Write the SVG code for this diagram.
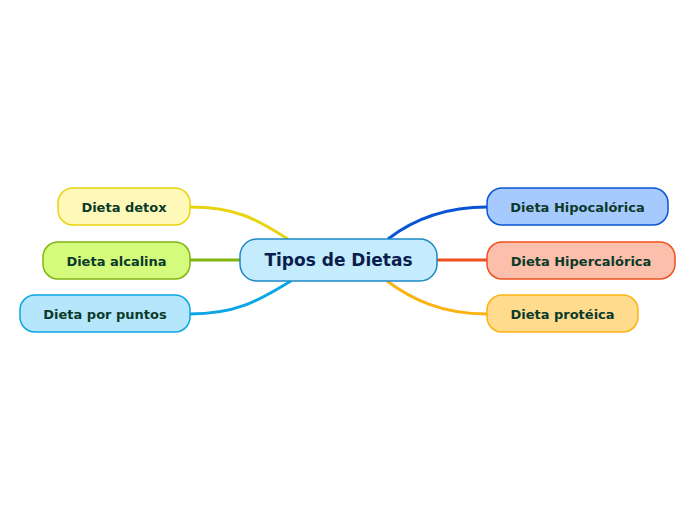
<svg xmlns="http://www.w3.org/2000/svg" width="696" height="520" viewBox="0 0 696 520">
<style>
text{font-family:"DejaVu Sans",sans-serif;font-weight:bold;text-anchor:middle;dominant-baseline:central}
.s{font-size:13px;fill:#0b3a2a}
.c{fill:none;stroke-width:3}
</style>
<rect width="696" height="520" fill="#fff"/>
<g id="connectors">
<path class="c" stroke="#e8d412" d="M190,207 C240,207 260,222 288,239"/>
<path class="c" stroke="#7fb511" d="M190,260 L240,260"/>
<path class="c" stroke="#0aa6e6" d="M190,314 C240,314 262,298 291,281"/>
<path class="c" stroke="#0855d4" d="M487,207 C440,207 410,222 388,239"/>
<path class="c" stroke="#f0501e" d="M487,260 L437,260"/>
<path class="c" stroke="#fcb312" d="M487,314 C440,314 410,298 387,281"/>
</g>
<g id="center"><rect x="240" y="239" width="197" height="42" rx="17" fill="#c5ecfc" stroke="#1e88c8" stroke-width="1.5"/><text x="338.5" y="260" font-size="17" fill="#0a1e4e">Tipos de Dietas</text></g>
<g id="n1"><rect x="58" y="188" width="132" height="37" rx="15" fill="#fef9b8" stroke="#e8d412" stroke-width="1.5"/><text class="s" x="124" y="207">Dieta detox</text></g>
<g id="n2"><rect x="43" y="242" width="147" height="37" rx="15" fill="#d4fb7c" stroke="#7fb511" stroke-width="1.5"/><text class="s" x="116.5" y="261">Dieta alcalina</text></g>
<g id="n3"><rect x="20" y="295" width="170" height="37" rx="15" fill="#b5e6fb" stroke="#0aa6e6" stroke-width="1.5"/><text class="s" x="105" y="314">Dieta por puntos</text></g>
<g id="n4"><rect x="487" y="188" width="181" height="37" rx="15" fill="#a6c9fe" stroke="#0855d4" stroke-width="1.5"/><text class="s" x="577.5" y="207">Dieta Hipocalórica</text></g>
<g id="n5"><rect x="487" y="242" width="188" height="37" rx="15" fill="#fbbfac" stroke="#f0501e" stroke-width="1.5"/><text class="s" x="581" y="261">Dieta Hipercalórica</text></g>
<g id="n6"><rect x="487" y="295" width="151" height="37" rx="15" fill="#ffdb8e" stroke="#fcb312" stroke-width="1.5"/><text class="s" x="562.5" y="314">Dieta protéica</text></g>
</svg>
